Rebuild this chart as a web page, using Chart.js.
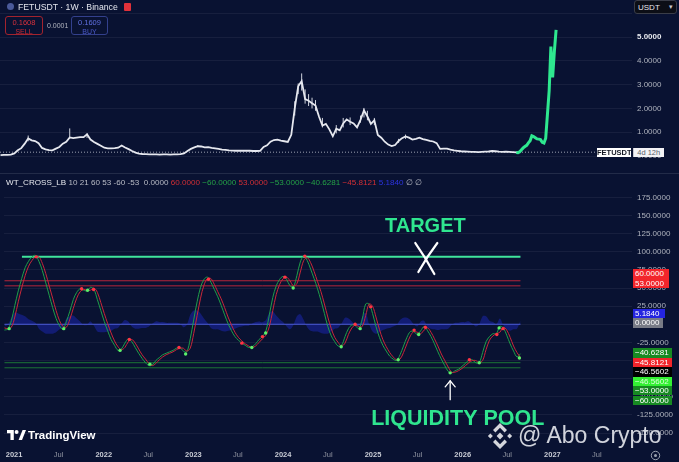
<!DOCTYPE html>
<html>
<head>
<meta charset="utf-8">
<script src="https://cdn.jsdelivr.net/npm/chart.js@4.4.1/dist/chart.umd.min.js"></script>
<style>
html,body{margin:0;padding:0;background:#091232;}
body{width:679px;height:462px;overflow:hidden;position:relative;font-family:"Liberation Sans",Arial,sans-serif;}
canvas{position:absolute;left:0;}
#top{top:0;}
#bot{top:173px;}
.a{position:absolute;white-space:nowrap;line-height:1;}
.tag{position:absolute;left:633px;height:9.4px;font-size:8px;line-height:9.6px;padding:0 2px;color:#fff;white-space:nowrap;}
</style>
</head>
<body>
<canvas id="top" width="679" height="173"></canvas>
<canvas id="bot" width="679" height="289"></canvas>

<!-- header -->
<div class="a" style="left:7px;top:3px;width:7px;height:7px;border-radius:50%;background:#4a5a9a;"></div>
<div class="a" style="left:18px;top:3px;font-size:8.7px;color:#e4e6ee;">FETUSDT · 1W · Binance</div>
<div class="a" style="left:124px;top:3px;width:7px;height:8px;background:#e0313a;border-radius:1px;"></div>
<div class="a" style="left:5px;top:16px;width:36px;height:17px;border:1px solid #a3232e;border-radius:3px;text-align:center;">
  <div style="font-size:7.5px;color:#d8323c;margin-top:2px;">0.1608</div>
  <div style="font-size:7px;color:#c92a34;margin-top:1px;">SELL</div>
</div>
<div class="a" style="left:47px;top:22px;font-size:7px;color:#b0b3bd;">0.0001</div>
<div class="a" style="left:71px;top:16px;width:35px;height:17px;border:1px solid #33408c;border-radius:3px;text-align:center;">
  <div style="font-size:7.5px;color:#6070e0;margin-top:2px;">0.1609</div>
  <div style="font-size:7px;color:#4a58c8;margin-top:1px;">BUY</div>
</div>
<div class="a" style="left:634px;top:0px;width:41px;height:12px;background:#0c0e16;border:1px solid #3a3d48;border-radius:3px;">
  <span style="position:absolute;left:3px;top:2.5px;font-size:8px;color:#e8e8ee;">USDT</span>
  <span style="position:absolute;right:3px;top:2px;font-size:7px;color:#c8c8d0;">▾</span>
</div>

<!-- price tags -->
<div class="a" style="left:597px;top:147.5px;width:34px;height:9.5px;background:#ffffff;font-size:7.5px;line-height:9.8px;text-align:center;color:#131722;font-weight:bold;">FETUSDT</div>
<div class="a" style="left:632.5px;top:147.5px;width:30.5px;height:9.5px;background:#f2f2f5;border-left:1px solid #c8c8d0;font-size:7.5px;line-height:9.8px;text-align:center;color:#5a5e6a;">4d 12h</div>

<!-- separator -->
<div class="a" style="left:0;top:173px;width:679px;height:1px;background:#222b48;"></div>

<!-- indicator legend -->
<div class="a" style="left:6px;top:179px;font-size:8.1px;color:#b8bbc5;">
<span style="color:#e6e8ee">WT_CROSS_LB</span> 10 21 60 53 -60 -53&nbsp; 0.0000 <span style="color:#d22f35">60.0000</span> <span style="color:#24a046">−60.0000</span> <span style="color:#d22f35">53.0000</span> <span style="color:#24a046">−53.0000</span> <span style="color:#24a046">−40.6281</span> <span style="color:#d22f35">−45.8121</span> <span style="color:#2b33e0">5.1840</span> ∅ ∅
</div>

<!-- oscillator tags -->
<div class="tag" style="top:269.3px;background:#f2252b;width:32px;">60.0000</div>
<div class="tag" style="top:278.8px;background:#f2252b;width:32px;">53.0000</div>
<div class="tag" style="top:308.5px;background:#2424e0;width:28px;">5.1840</div>
<div class="tag" style="top:318.2px;background:#787b86;width:26px;">0.0000</div>
<div class="tag" style="top:348.3px;background:#178a22;width:35px;">−40.6281</div>
<div class="tag" style="top:357.7px;background:#f2252b;width:35px;">−45.8121</div>
<div class="tag" style="top:367.2px;background:#000000;width:35px;">−46.5602</div>
<div class="tag" style="top:376.6px;background:#33f033;width:35px;color:#d8ffd8;">−46.5602</div>
<div class="tag" style="top:386.1px;background:#178a22;width:35px;">−53.0000</div>
<div class="tag" style="top:395.5px;background:#178a22;width:35px;">−60.0000</div>

<!-- TradingView logo -->
<svg class="a" style="left:7px;top:430px;" width="19" height="10" viewBox="0 0 21 11">
  <path d="M0 0 H7.5 V11 H3.8 V3.6 H0 Z" fill="#ffffff"/>
  <circle cx="10.6" cy="2.2" r="2.2" fill="#ffffff"/>
  <path d="M12.8 11 L17.2 0 H21 L16.6 11 Z" fill="#ffffff"/>
</svg>
<div class="a" style="left:28px;top:429.5px;font-size:11.5px;font-weight:bold;color:#ffffff;">TradingView</div>

<!-- watermark -->
<svg class="a" style="left:487px;top:423px;" width="26" height="26" viewBox="-13 -13 26 26">
  <g fill="#d4d6dc">
    <path d="M0 -13 L7 -6 L4.6 -3.6 L0 -8.2 L-4.6 -3.6 L-7 -6 Z"/>
    <path d="M0 13 L7 6 L4.6 3.6 L0 8.2 L-4.6 3.6 L-7 6 Z"/>
    <path d="M0 -3.4 L3.4 0 L0 3.4 L-3.4 0 Z"/>
    <path d="M-9.6 -2.5 L-7.1 0 L-9.6 2.5 L-12.1 0 Z"/>
    <path d="M9.6 -2.5 L12.1 0 L9.6 2.5 L7.1 0 Z"/>
  </g>
</svg>
<div class="a" style="left:518px;top:424px;font-size:23px;color:rgba(226,228,234,0.92);">@ Abo Crypto</div>

<!-- corner icon -->
<svg class="a" style="left:650px;top:450px;" width="11" height="11" viewBox="0 0 11 11">
  <circle cx="5.5" cy="5.5" r="4.2" fill="none" stroke="#9aa0ae" stroke-width="1"/>
  <circle cx="5.5" cy="5.5" r="1.5" fill="#9aa0ae"/>
</svg>

<script>
// ---------------- data ----------------
const priceStart = '2020-11-23';
const priceStepDays = 14;
const priceClose = [
0.04,0.045,0.05,0.06,0.11,0.24,0.33,0.52,0.74,0.66,
0.63,0.54,0.34,0.28,0.25,0.24,0.31,0.38,0.52,0.60,
0.78,0.75,0.77,0.79,0.79,0.91,0.69,0.59,0.51,0.43,
0.35,0.32,0.32,0.33,0.35,0.44,0.36,0.29,0.21,0.14,
0.10,0.085,0.08,0.07,0.07,0.07,0.06,0.07,0.07,0.06,
0.07,0.07,0.08,0.11,0.21,0.30,0.36,0.41,0.40,0.36,
0.37,0.34,0.32,0.30,0.27,0.26,0.24,0.23,0.22,0.22,
0.22,0.22,0.22,0.21,0.21,0.22,0.38,0.45,0.60,0.67,
0.69,0.65,0.62,0.59,0.89,2.00,2.93,3.15,2.39,2.32,
2.22,2.12,1.66,1.28,1.35,1.12,0.83,1.15,1.08,1.37,
1.54,1.44,1.37,1.20,1.52,1.92,1.66,1.35,1.50,0.88,
0.77,0.60,0.48,0.42,0.46,0.63,0.75,0.82,0.77,0.69,
0.72,0.77,0.71,0.68,0.64,0.61,0.54,0.30,0.31,0.31,
0.27,0.24,0.22,0.20,0.19,0.18,0.17,0.17,0.16,0.17,
0.18,0.19,0.21,0.20,0.18,0.17,0.18,0.17,0.16,0.15,
0.1608];
const wickIdx  = [8, 20, 25, 57, 85, 86, 87, 88, 89, 90, 91, 93, 97, 99, 101, 104, 105, 106, 108, 115, 117];
const wickLow  = [0.62, 0.72, 0.76, 0.37, 1.70, 2.60, 2.75, 2.20, 2.10, 2.00, 1.90, 1.20, 0.95, 1.20, 1.30, 1.40, 1.62, 1.50, 1.30, 0.55, 0.72];
const wickHigh = [0.86, 1.16, 0.95, 0.46, 2.30, 3.05, 3.47, 2.80, 2.60, 2.45, 2.35, 1.60, 1.30, 1.60, 1.62, 1.70, 2.02, 1.90, 1.60, 0.72, 0.90];
const lastPrice = 0.1608;

const projStart = '2026-08-10';
const projStepDays = 7;
const projClose = [0.15,0.14,0.18,0.26,0.34,0.40,0.45,0.55,0.64,0.85,0.82,0.77,
0.72,0.71,0.69,0.58,0.55,0.75,1.75,2.75,4.60,3.30,4.40,5.30];

const wtStart = '2020-11-23';
const wtStepDays = 14;
const wt1 = [
-8,-6.5,5,26,46,63,78,87,93,95,
87,74,57,40,23,8,-2,-7,4,18,
34,44,49,47,46,51,48,34,19,4,
-9,-21,-29,-36,-34,-26,-20,-24,-32,-40,
-47,-53,-57,-56,-50,-46,-42,-40,-38,-36,
-33,-32,-37,-38,-20,6,31,51,62,65,
58,48,38,26,13,1,-9,-17,-22,-26,
-29,-32,-31,-27,-21,-17,-9,13,37,53,
62,66,62,53,52,67,86,94,88,76,
63,49,33,15,-3,-16,-24,-30,-29,-17,
-6,-1,-2,-6,7,28,28,15,-3,-18,
-29,-37,-44,-48,-50,-42,-30,-18,-10,-10,
-14,-9,-3,-9,-17,-27,-38,-48,-57,-65,
-67,-64,-62,-58,-54,-49,-49,-53,-53,-39,
-24,-17,-13,-13,-3,-5,-15,-27,-37,-45,
-40.63];
const wt2 = [
-5,-6,-4,10,31,50,67,80,88,93,
93,84,70,53,36,19,5,-3,-4,7,
22,36,45,48,47,47,50,44,30,15,
1,-12,-23,-31,-35,-32,-24,-21,-26,-34,
-42,-48,-54,-57,-54,-49,-45,-42,-40,-38,
-35,-33,-33,-37,-33,-13,12,36,54,63,
63,55,45,35,23,10,-1,-11,-18,-23,
-27,-30,-32,-30,-25,-20,-15,-3,19,41,
55,63,65,60,53,56,72,88,92,85,
73,59,45,28,10,-6,-18,-25,-30,-26,
-14,-5,-1,-3,-3,12,28,25,10,-7,
-21,-31,-39,-45,-49,-48,-39,-27,-16,-10,
-11,-13,-8,-5,-11,-20,-30,-41,-50,-59,
-66,-66,-64,-61,-57,-53,-50,-50,-53,-50,
-35,-22,-16,-13,-11,-4,-8,-18,-30,-39,
-45.81];
const wtDiff = [
-3,-0.5,9,16,15,13,11,7,5,2,
-6,-10,-13,-13,-13,-11,-7,-4,8,11,
12,8,4,-1,-1,4,-2,-10,-11,-11,
-10,-9,-6,-5,1,6,4,-3,-6,-6,
-5,-5,-3,1,4,3,3,2,2,2,
2,1,-4,-1,13,19,19,15,8,2,
-5,-7,-7,-9,-10,-9,-8,-6,-4,-3,
-2,-2,1,3,4,3,6,16,18,12,
7,3,-3,-7,-1,11,14,6,-4,-9,
-10,-10,-12,-13,-13,-10,-6,-5,1,9,
8,4,-1,-3,10,16,0,-10,-13,-11,
-8,-6,-5,-3,-1,6,9,9,6,0,
-3,4,5,-4,-6,-7,-8,-7,-7,-6,
-1,2,2,3,3,4,1,-3,0,11,
11,5,3,0,8,-1,-7,-9,-7,-6,
5.18];
const greenDotIdx = [1.35,17.23,24.16,33.6,42.27,52.66,71.9,75.94,83.93,97.89,103.4,114.46,120.41,129.56,138.03,143.8,149.69];
const greenDotVal = [-6,-6,47,-36,-55,-41,-32,-12,50,-31,-6,-49,-14,-67,-53,-5,-46.56];
const redDotIdx = [9.23,22.43,25.9,36.29,50.73,59.3,69.0,74.98,81.54,87.31,101.93,106.46,119.08,122.34,135.14,143.13,144.95];
const redDotVal = [93,49,48,-21,-32,62,-26,-17,65,94,0,24,-8,-4,-49,-14,-6];

const levelValues = [60, 53, 0, -53, -60];
const targetLevel = 93;
const targetFrom = '2021-02-02';

const xTickDates = ['2021-01-01','2021-07-01','2022-01-01','2022-07-01','2023-01-01','2023-07-01','2024-01-01','2024-07-01','2025-01-01','2025-07-01','2026-01-01','2026-07-01','2027-01-01','2027-07-01'];
const xTickLabels = ['2021','Jul','2022','Jul','2023','Jul','2024','Jul','2025','Jul','2026','Jul','2027','Jul'];
const priceTicks = [0,1,2,3,4,5,6];
const priceTickHidden = [6];
const oscTicks = [-150,-125,-100,-75,-50,-25,0,25,50,75,100,125,150,175];
const xRange = ['2020-11-21','2027-11-21'];
const priceRange = [-0.714, 6.555];
const oscRange = [-165.1, 203.1];

// ---------------- helpers ----------------
const EPOCH = Date.parse('2021-01-01T00:00:00Z');
const dayOf = s => (Date.parse(s + 'T00:00:00Z') - EPOCH) / 864e5;
const series = (start, step, vals) => vals.map((v, i) => ({x: dayOf(start) + i * step, y: v}));
const atIdx = (start, step, idx, vals) => idx.map((k, i) => ({x: dayOf(start) + k * step, y: vals[i]}));

const GRID = 'rgba(255,255,255,0.06)';
const TICKC = '#aeb2bd';
const FONT = '"Liberation Sans", Arial, sans-serif';

function rightAxis(range, ticks, fmtBold, hidden) {
  return {
    position: 'right', min: range[0], max: range[1],
    afterBuildTicks: s => { s.ticks = ticks.map(v => ({value: v})); },
    afterFit: s => { s.width = 47; s.paddingTop = 0; s.paddingBottom = 0; },
    border: {display: false},
    grid: {color: GRID, drawTicks: false, lineWidth: 1},
    ticks: {
      padding: 5, autoSkip: false,
      color: c => (fmtBold !== null && c.tick && c.tick.value === fmtBold) ? '#e6e8ee' : TICKC,
      font: c => ({family: FONT, size: 8, weight: (fmtBold !== null && c.tick && c.tick.value === fmtBold) ? 'bold' : 'normal'}),
      callback: v => (hidden && hidden.includes(v)) ? '' : v.toFixed(4)
    }
  };
}

// ---------------- price chart ----------------
const wickData = [];
wickIdx.forEach((k, i) => {
  const x = dayOf(priceStart) + k * priceStepDays;
  wickData.push({x, y: wickLow[i]}, {x, y: wickHigh[i]}, {x, y: null});
});

new Chart(document.getElementById('top'), {
  type: 'line',
  data: {datasets: [
    {data: series(projStart, projStepDays, projClose), borderColor: '#2ee88f', borderWidth: 3, pointRadius: 0, tension: 0, order: 0},
    {data: series(priceStart, priceStepDays, priceClose), borderColor: '#e6e8ef', borderWidth: 1.8, pointRadius: 0, tension: 0, order: 1},
    {data: wickData, borderColor: '#cfd2dc', borderWidth: 1, pointRadius: 0, spanGaps: false, order: 2},
    {data: [{x: dayOf(xRange[0]), y: lastPrice}, {x: dayOf(xRange[1]), y: lastPrice}], borderColor: 'rgba(205,210,220,0.75)', borderWidth: 1, borderDash: [1, 2], pointRadius: 0, order: 3}
  ]},
  options: {
    responsive: false, animation: false, devicePixelRatio: 1, events: [],
    layout: {padding: 0},
    plugins: {legend: {display: false}, tooltip: {enabled: false}},
    scales: {
      x: {type: 'linear', display: false, min: dayOf(xRange[0]), max: dayOf(xRange[1])},
      y: rightAxis(priceRange, priceTicks, 5, priceTickHidden)
    }
  }
});

// ---------------- oscillator chart ----------------
const notes = {
  target: {date: '2025-08-02', value: 127},
  cross:  {date: '2025-08-06', value: 90},
  arrow:  {date: '2025-11-11', from: -104, to: -78},
  pool:   {date: '2025-12-12', value: -139}
};

const annotate = {
  id: 'annotate',
  afterDatasetsDraw(chart) {
    const {ctx} = chart; const xs = chart.scales.x, ys = chart.scales.y;
    ctx.save();
    ctx.fillStyle = '#2fe58f';
    ctx.textAlign = 'center'; ctx.textBaseline = 'alphabetic';
    ctx.font = 'bold 20px ' + FONT;
    ctx.fillText('TARGET', xs.getPixelForValue(dayOf(notes.target.date)), ys.getPixelForValue(notes.target.value));
    ctx.font = 'bold 21.5px ' + FONT;
    ctx.fillText('LIQUIDITY POOL', xs.getPixelForValue(dayOf(notes.pool.date)), ys.getPixelForValue(notes.pool.value));
    const cx = xs.getPixelForValue(dayOf(notes.cross.date)), cy = ys.getPixelForValue(notes.cross.value);
    ctx.strokeStyle = '#ffffff'; ctx.lineWidth = 2.2; ctx.lineCap = 'round';
    ctx.beginPath(); ctx.moveTo(cx - 11, cy - 16); ctx.quadraticCurveTo(cx - 1, cy - 2, cx + 8, cy + 15); ctx.stroke();
    ctx.beginPath(); ctx.moveTo(cx + 11, cy - 16); ctx.quadraticCurveTo(cx + 1, cy - 3, cx - 8, cy + 13); ctx.stroke();
    const ax = xs.getPixelForValue(dayOf(notes.arrow.date));
    const y0 = ys.getPixelForValue(notes.arrow.from), y1 = ys.getPixelForValue(notes.arrow.to);
    ctx.lineWidth = 1.3; ctx.lineCap = 'round';
    ctx.beginPath(); ctx.moveTo(ax, y0); ctx.lineTo(ax, y1); ctx.stroke();
    ctx.beginPath(); ctx.moveTo(ax - 5, y1 + 6); ctx.lineTo(ax, y1); ctx.lineTo(ax + 5, y1 + 6); ctx.stroke();
    ctx.restore();
  }
};

const wtFirst = dayOf(wtStart), wtLast = dayOf(wtStart) + (wt1.length - 1) * wtStepDays;
const levelColors = ['#b5263a', '#b5263a', '#4c5cd8', '#1c7436', '#1c7436'];
const levelSets = levelValues.map((lv, i) => ({
  data: [{x: wtFirst, y: lv}, {x: wtLast, y: lv}],
  borderColor: levelColors[i], borderWidth: 1, pointRadius: 0, order: 5
}));

new Chart(document.getElementById('bot'), {
  type: 'line',
  data: {datasets: [
    {type: 'scatter', data: atIdx(wtStart, wtStepDays, greenDotIdx, greenDotVal), pointRadius: 1.7, pointBackgroundColor: '#5cf06a', pointBorderWidth: 0, order: 0},
    {type: 'scatter', data: atIdx(wtStart, wtStepDays, redDotIdx, redDotVal), pointRadius: 1.7, pointBackgroundColor: '#ff3344', pointBorderWidth: 0, order: 0},
    {data: series(wtStart, wtStepDays, wt2), borderColor: '#c8283a', borderWidth: 1, pointRadius: 0, tension: 0.35, order: 2},
    {data: series(wtStart, wtStepDays, wt1), borderColor: '#1f9e4a', borderWidth: 1, pointRadius: 0, tension: 0.35, order: 3},
    {data: [{x: dayOf(targetFrom), y: targetLevel}, {x: wtLast, y: targetLevel}], borderColor: '#3fe49b', borderWidth: 2, pointRadius: 0, order: 4},
    ...levelSets,
    {data: series(wtStart, wtStepDays, wtDiff), borderWidth: 0, borderColor: 'rgba(0,0,0,0)', backgroundColor: 'rgba(30,42,205,0.42)', fill: 'origin', pointRadius: 0, tension: 0.3, order: 6}
  ]},
  options: {
    responsive: false, animation: false, devicePixelRatio: 1, events: [],
    layout: {padding: 0},
    plugins: {legend: {display: false}, tooltip: {enabled: false}},
    scales: {
      x: {
        type: 'linear', min: dayOf(xRange[0]), max: dayOf(xRange[1]),
        afterBuildTicks: s => { s.ticks = xTickDates.map(d => ({value: dayOf(d)})); },
        afterFit: s => { s.height = 18; s.paddingLeft = 0; s.paddingRight = 0; },
        border: {display: false},
        grid: {display: false, drawTicks: false},
        ticks: {
          padding: 6, autoSkip: false, maxRotation: 0,
          callback: (v, i) => xTickLabels[i],
          color: c => xTickLabels[c.index] === 'Jul' ? '#8f93a0' : '#c8cbd4',
          font: c => ({family: FONT, size: 7.5, weight: xTickLabels[c.index] === 'Jul' ? 'normal' : 'bold'})
        }
      },
      y: rightAxis(oscRange, oscTicks, null, null)
    }
  },
  plugins: [annotate]
});
</script>
</body>
</html>
